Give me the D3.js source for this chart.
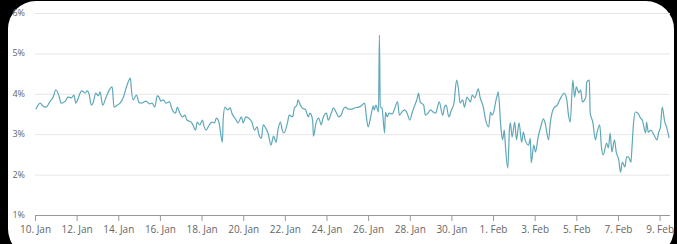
<!DOCTYPE html>
<html>
<head>
<meta charset="utf-8">
<script src="https://d3js.org/d3.v7.min.js"></script>
<style>
  body { margin: 0; background: #000; }
  svg { display: block; }
  text { font-family: "Open Sans", sans-serif; fill: #666; }
</style>
</head>
<body>
<svg id="chart" width="677" height="244"></svg>
<script>
// hours since 10 Jan 00:00
var hours = [1,6,9,13,17,21,24,28,30,35,38,42,45,47,50,52,54,58,60,62,65,67,70,73,75,78,82,84,87,89,91,95,98,102,105,107,110,111,113,117,120,
  123,128,132,135,138,141,143,145,148,151,155,158,162,164,167,170,173,175,180,182,185,187,190,193,195,197,201,204,207,209,212,216,217,219,222,225,227,232,234,238,240,243,
  246,250,253,256,258,261,263,266,269,272,275,278,280,283,285,287,291,293,297,299,302,303,306,308,312,315,317,320,321,324,327,330,332,336,338,342,344,347,350,353,355,358,361,366,
  368,373,376,380,382,384,387,390,391,393,396,397,398,400,403,404,406,408,412,414,418,420,423,426,429,432,435,437,441,442,444,448,450,453,456,459,462,464,466,470,472,474,477,480,483,486,488,
  490,493,495,498,502,504,507,511,513,517,519,523,525,527,530,531,533,534,537,539,541,542,545,547,548,550,553,555,558,561,563,565,569,571,572,575,577,580,583,586,588,592,594,597,599,602,606,608,610,
  613,615,617,620,622,624,627,629,631,635,636,639,640,643,646,648,651,653,655,659,661,663,665,668,670,673,675,677,680,682,684,687,688,690,692,695,698,700,704,705,707,710,713,717,719,721,723,726,728,731];
var rates = [3.62,3.77,3.7,3.67,3.8,3.92,4.1,3.92,3.77,3.82,3.92,3.9,3.97,3.77,3.9,4.02,4.07,4.02,4.07,4.02,3.72,3.77,4.02,3.95,4.05,3.72,3.92,4.02,4.14,4.17,3.67,3.72,3.77,3.92,4.14,4.27,4.39,4.14,3.85,3.97,3.78,
  3.77,3.82,3.75,3.77,3.67,3.95,3.92,3.82,3.85,3.77,3.8,3.62,3.52,3.67,3.52,3.43,3.47,3.35,3.3,3.23,3.1,3.3,3.23,3.35,3.18,3.1,3.23,3.3,3.28,3.4,3.3,2.8,3.4,3.67,3.6,3.65,3.52,3.35,3.28,3.43,3.28,3.43,
  3.4,3.3,3.1,3.18,3.0,2.9,3.23,3.15,3.0,2.73,2.95,2.8,3.1,3.3,3.1,3.03,3.28,3.47,3.43,3.65,3.72,3.85,3.72,3.65,3.6,3.43,3.52,3.35,2.95,3.28,3.4,3.23,3.4,3.52,3.35,3.55,3.65,3.55,3.43,3.47,3.6,3.67,3.62,3.62,
  3.65,3.67,3.7,3.77,3.43,3.18,3.43,3.7,3.6,3.72,3.55,5.45,3.67,3.65,3.03,3.55,3.43,3.52,3.5,3.6,3.8,3.47,3.55,3.6,3.52,3.35,3.55,3.67,3.92,4.02,3.8,3.72,3.47,3.52,3.6,3.55,3.52,3.67,3.8,3.47,3.67,3.72,3.43,3.6,3.77,4.34,4.15,
  3.77,3.85,3.67,3.92,3.8,3.97,3.9,4.12,3.92,3.65,3.4,3.18,3.55,3.47,3.67,3.8,3.97,4.05,3.18,2.86,3.1,2.8,2.16,3.15,3.28,2.93,3.3,2.86,3.28,2.8,3.05,2.86,2.73,2.9,2.29,2.73,2.56,2.93,3.18,3.38,3.28,2.86,3.28,3.6,3.67,3.72,3.9,3.97,4.02,
  3.85,3.47,3.3,4.34,3.92,4.17,4.02,4.1,3.8,3.92,4.29,4.34,3.52,3.3,2.86,3.05,3.23,2.68,2.49,2.78,2.66,3.03,2.56,2.86,2.56,2.36,2.06,2.31,2.19,2.44,2.44,2.31,2.61,3.28,3.55,3.52,3.4,3.35,3.03,3.3,3.05,3.1,3.0,2.86,3.05,3.18,3.67,3.3,3.18,2.9];

var yTicks = [1, 2, 3, 4, 5, 6];
var xTickHours = [0, 48, 96, 144, 192, 240, 288, 336, 384, 432, 480, 528, 576, 624, 672, 720];
var xTickLabels = ["10. Jan","12. Jan","14. Jan","16. Jan","18. Jan","20. Jan","22. Jan","24. Jan","26. Jan","28. Jan","30. Jan","1. Feb","3. Feb","5. Feb","7. Feb","9. Feb"];

var svg = d3.select("#chart");

// white card on black
svg.append("rect")
  .attr("x", 8).attr("y", 1)
  .attr("width", 666).attr("height", 256)
  .attr("rx", 28)
  .attr("fill", "#fff");

var x = d3.scaleLinear().domain([0, 732]).range([35, 670]);
var y = d3.scaleLinear().domain([1, 6]).range([215, 13]);

// grid
svg.append("g")
  .selectAll("line")
  .data(yTicks.slice(1))
  .enter().append("line")
    .attr("x1", 35).attr("x2", 670)
    .attr("y1", function(d) { return y(d) + 0.5; })
    .attr("y2", function(d) { return y(d) + 0.5; })
    .attr("stroke", "#e6e6e6");

svg.append("g")
  .selectAll("text")
  .data(yTicks)
  .enter().append("text")
    .attr("x", 25)
    .attr("y", function(d) { return y(d) + 3; })
    .attr("text-anchor", "end")
    .style("font-size", "9px")
    .text(function(d) { return d + "%"; });

// x axis
var xAxis = d3.axisBottom(x)
  .tickValues(xTickHours)
  .tickSize(6)
  .tickFormat(function(d, i) { return xTickLabels[i]; });

var gx = svg.append("g")
  .attr("transform", "translate(0,215)")
  .call(xAxis);
gx.select(".domain").attr("stroke", "#999").attr("d", "M35.5,0.5H670");
gx.selectAll(".tick line").attr("stroke", "#999");
gx.selectAll(".tick text")
  .attr("y", 11)
  .style("font-size", "10px")
  .style("font-family", "'Open Sans', sans-serif")
  .attr("fill", "#666");

// line
var pts = hours.map(function(h, i) { return [h, rates[i]]; });
var line = d3.line()
  .x(function(d) { return x(d[0]); })
  .y(function(d) { return y(d[1]); })
  .curve(d3.curveMonotoneX);

svg.append("path")
  .datum(pts)
  .attr("fill", "none")
  .attr("stroke", "#5fa8b8")
  .attr("stroke-width", 1.2)
  .attr("d", line);
</script>
</body>
</html>
